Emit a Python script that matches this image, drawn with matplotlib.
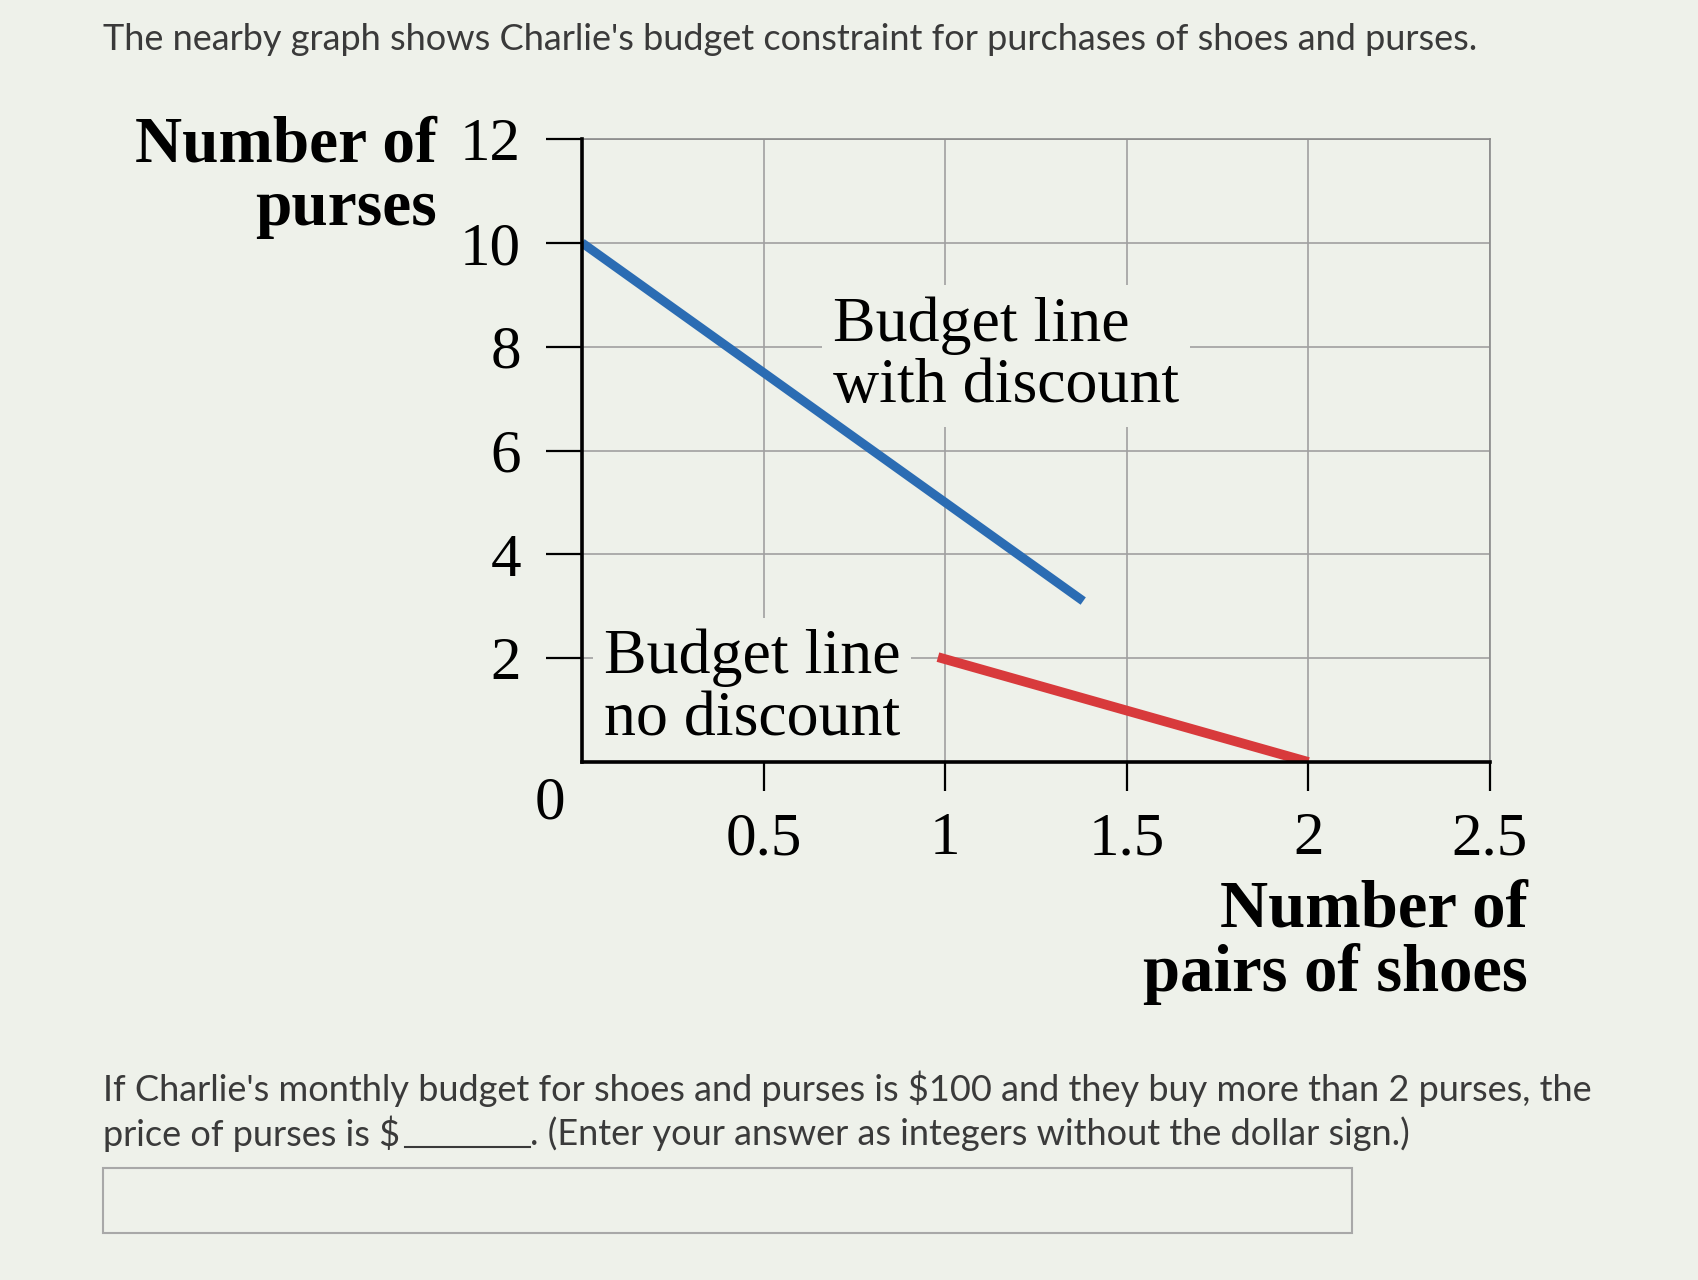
import matplotlib.pyplot as plt
from matplotlib.patches import Rectangle
from matplotlib.lines import Line2D

W, H = 1699, 1280

# budget lines (shoes on x, purses on y)
shoes_discount = [0.0, 1.38]
purses_discount = [10.0, 3.1]
shoes_nodisc = [0.98, 2.0]
purses_nodisc = [2.02, 0.0]

x_ticks = [0.5, 1, 1.5, 2, 2.5]
x_tick_labels = ['0.5', '1', '1.5', '2', '2.5']
y_ticks = [2, 4, 6, 8, 10, 12]
y_tick_labels = ['2', '4', '6', '8', '10', '12']

title = "The nearby graph shows Charlie's budget constraint for purchases of shoes and purses."
question_1 = ("If Charlie's monthly budget for shoes and purses is \\$100 and they buy "
              "more than 2 purses, the")
question_2a = "price of purses is \\$ "
question_2b = ". (Enter your answer as integers without the dollar sign.)"

bg = '#eef1ea'
serif = 'Liberation Serif'
sans = 'Lato'
blue = '#2b6cb3'
red = '#d83a3c'
txt = '#3a3a3a'


def fx(px):
    return px / W


def fy(py):
    return 1 - py / H


fig = plt.figure(figsize=(W / 100, H / 100), dpi=100, facecolor=bg)
ax = fig.add_axes([fx(582), fy(762), fx(1490) - fx(582), fy(139) - fy(762)])
ax.set_facecolor(bg)

ax.plot(shoes_discount, purses_discount, color=blue, lw=6.5, solid_capstyle='butt', zorder=5)
ax.plot(shoes_nodisc, purses_nodisc, color=red, lw=7, solid_capstyle='butt', zorder=5)

ax.set_xlim(0, 2.5)
ax.set_ylim(0, 12)
ax.set_xticks(x_ticks)
ax.set_xticklabels(x_tick_labels, family=serif, fontsize=44)
ax.set_yticks(y_ticks)
ax.set_yticklabels(y_tick_labels, family=serif, fontsize=44)
ax.tick_params(axis='x', direction='out', length=21, width=1.6, pad=15)
ax.tick_params(axis='y', direction='out', length=26, width=1.6, pad=18)
ax.grid(True, color='#a0a0a0', lw=1.2)
ax.set_axisbelow(True)
for s in ['left', 'bottom']:
    ax.spines[s].set_linewidth(2.6)
    ax.spines[s].set_color('black')
    ax.spines[s].set_zorder(6)
for s in ['top', 'right']:
    ax.spines[s].set_linewidth(1.2)
    ax.spines[s].set_color('#8a8a8a')

ax.text(-0.087, -0.8, '0', family=serif, fontsize=44, ha='center', va='center', clip_on=False)

box = dict(facecolor=bg, edgecolor='none', pad=8)
ax.text(0.69, 7.82, 'Budget line\nwith discount', family=serif, fontsize=46,
        ha='left', va='center', linespacing=1.08, bbox=box, zorder=3)
ax.text(0.06, 1.4, 'Budget line\nno discount', family=serif, fontsize=46,
        ha='left', va='center', linespacing=1.1, bbox=box, zorder=3)

# axis titles
fig.text(fx(437), fy(177), 'Number of\npurses', family=serif, fontsize=47, fontweight='bold',
         ha='right', va='center', linespacing=1.08)
fig.text(fx(1528), fy(942), 'Number of\npairs of shoes', family=serif, fontsize=48,
         fontweight='bold', ha='right', va='center', linespacing=1.05)

# question text
fig.text(fx(103), fy(39), title, family=sans, fontsize=26, color=txt, ha='left', va='center')
fig.text(fx(103), fy(1089), question_1, family=sans, fontsize=26, color=txt,
         ha='left', va='center')
t2 = fig.text(fx(103), fy(1134), question_2a, family=sans, fontsize=26, color=txt,
              ha='left', va='center')
fig.canvas.draw()
bb = t2.get_window_extent()
blank_x0 = bb.x1 - 4
blank_x1 = blank_x0 + 125
fig.lines.append(Line2D([blank_x0 / W, blank_x1 / W], [fy(1147), fy(1147)],
                        transform=fig.transFigure, color=txt, lw=1.5))
fig.text(blank_x1 / W, fy(1134), question_2b, family=sans, fontsize=26, color=txt,
         ha='left', va='center')
fig.patches.append(Rectangle((fx(103), fy(1233)), fx(1352) - fx(103), fy(1168) - fy(1233),
                             transform=fig.transFigure, facecolor='none',
                             edgecolor='#a8a8a8', lw=1.5))

fig.savefig('out.png', dpi=100, facecolor=bg)
